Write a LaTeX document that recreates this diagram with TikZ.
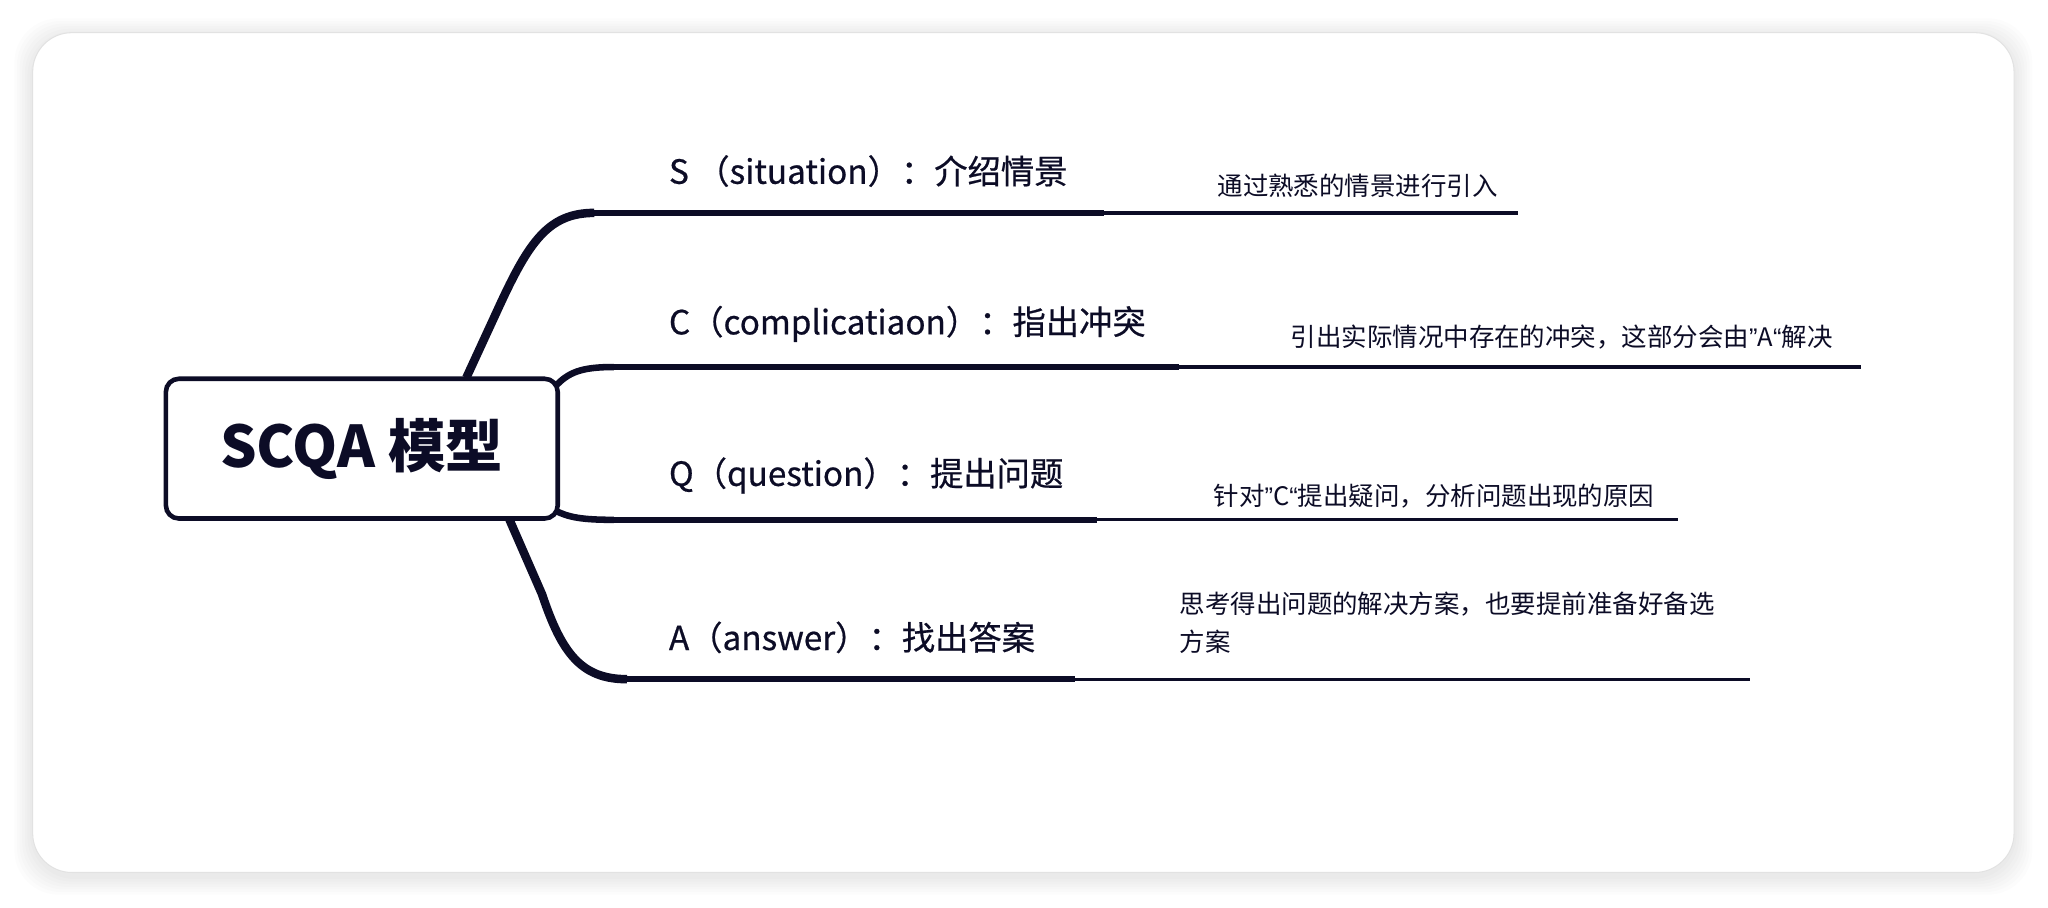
\documentclass[tikz,border=0pt]{standalone}
\usepackage{fontspec}
\setmainfont{Noto Sans CJK SC}
\newfontfamily\topicfont[FakeBold=0.6]{Noto Sans CJK SC}
\newfontfamily\quotefont{Liberation Sans}
\usepackage{tikz}
\usetikzlibrary{positioning,calc}

\definecolor{ink}{RGB}{12,12,38}
\definecolor{cardline}{RGB}{226,226,226}

\newcommand{\quoted}[1]{{\quotefont ”}#1{\quotefont “}}

\tikzset{
  rootbox/.style={draw=ink, line width=3.5pt, rounded corners=10pt, fill=white,
    minimum width=300pt, minimum height=107pt, text=ink,
    font=\fontsize{44}{50}\selectfont\bfseries},
  topic/.style={anchor=west, inner sep=0pt, text=ink, font=\fontsize{25.5}{30}\topicfont},
  note/.style={anchor=west, inner sep=0pt, text=ink, align=left, font=\fontsize{19.5}{29}\selectfont},
  trunk/.style={draw=ink, line width=6.5pt},
  stem/.style={draw=ink, line width=5pt},
  twig/.style={draw=ink, line width=2.5pt}
}

\begin{document}
\begin{tikzpicture}[x=1pt, y=-1pt]
\useasboundingbox (0,0) rectangle (1568,695);

% Card with soft shadow
\foreach \s in {14,12,...,2}
  \fill[black, opacity=0.012, rounded corners=34pt] (25-\s,25-\s+3) rectangle (1542+\s,668+\s+3);
\draw[cardline, fill=white, line width=0.8pt, rounded corners=30pt] (25,25) rectangle (1542,668);

% Root
\node[rootbox] (root) at (277,343.5) {SCQA 模型};

% Topics
\node[topic] (s) at (512,131) {S （situation）：介绍情景};
\node[topic] (c) at (512,248) {C（complicatiaon）：指出冲突};
\node[topic] (q) at (512,364) {Q（question）：提出问题};
\node[topic] (a) at (512,488) {A（answer）：找出答案};

% Notes
\node[note] (snote) at (932,142) {通过熟悉的情景进行引入};
\node[note] (cnote) at (988,258) {引出实际情况中存在的冲突，这部分会由\quoted{A}解决};
\node[note] (qnote) at (929,380) {针对\quoted{C}提出疑问，分析问题出现的原因};
\node[note, anchor=north west] (anote) at (903,453) {思考得出问题的解决方案，也要提前准备好备选\\方案};

% Line ends
\coordinate (sjoin) at (455,163);  \coordinate (send) at (845,163);  \coordinate (stip) at (1162,163);
\coordinate (cjoin) at (470,281);  \coordinate (cend) at (903,281);  \coordinate (ctip) at (1425,281);
\coordinate (qjoin) at (470,398);  \coordinate (qend) at (840,398);  \coordinate (qtip) at (1285,398);
\coordinate (ajoin) at (480,520);  \coordinate (aend) at (823,520);  \coordinate (atip) at (1340,520);

% Branches
\draw[trunk] ($(root.north)+(80,1)$) -- (382,235) .. controls (405,185) and (420,163) .. (sjoin);
\draw[stem] ($(root.north east)+(-4,8)$) .. controls (435,285) and (445,281) .. (cjoin);
\draw[stem] ($(root.south east)+(-4,-8)$) .. controls (435,396) and (445,398) .. (qjoin);
\draw[trunk] ($(root.south)+(113,-1)$) -- (415,455) .. controls (430,500) and (445,520) .. (ajoin);

\draw[stem] (sjoin) -- (send);  \draw[twig] (send) -- (stip);
\draw[stem] (cjoin) -- (cend);  \draw[twig] (cend) -- (ctip);
\draw[stem] (qjoin) -- (qend);  \draw[twig] (qend) -- (qtip);
\draw[stem] (ajoin) -- (aend);  \draw[twig] (aend) -- (atip);

\end{tikzpicture}
\end{document}
